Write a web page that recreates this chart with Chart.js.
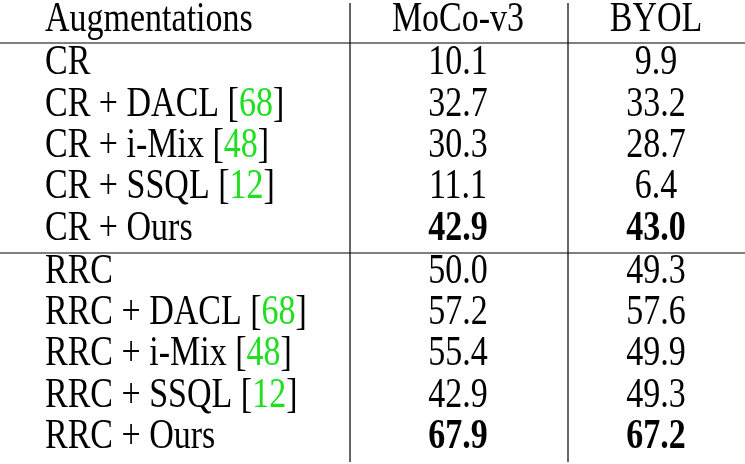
<!DOCTYPE html>
<html><head><meta charset="utf-8">
<script src="https://cdn.jsdelivr.net/npm/chart.js@4"></script>
<style>html,body{margin:0;padding:0;background:#fff}#wrap{width:745px;height:464px}</style>
</head><body><div id="wrap"><canvas id="c"></canvas></div>
<script>
const headers = ['Augmentations', 'MoCo-v3', 'BYOL'];
const methods = ['CR', 'CR + DACL', 'CR + i-Mix', 'CR + SSQL', 'CR + Ours',
  'RRC', 'RRC + DACL', 'RRC + i-Mix', 'RRC + SSQL', 'RRC + Ours'];
const refs = ['', '68', '48', '12', '', '', '68', '48', '12', ''];
const mocoV3 = [10.1, 32.7, 30.3, 11.1, 42.9, 50.0, 57.2, 55.4, 42.9, 67.9];
const byol = [9.9, 33.2, 28.7, 6.4, 43.0, 49.3, 57.6, 49.9, 49.3, 67.2];
const best = [false, false, false, false, true, false, false, false, false, true];

// layout in scale units (pixels of the 745x464 frame)
const colX = [45, 458, 656];
const rowY = [20, 63, 105, 146, 187, 229, 272, 313, 354, 396, 437];
const vLines = [350, 568];
const hLines = [43, 253];
const FONT = '"Liberation Serif", "Times New Roman", serif';
const STRETCH = 1.25;

function stretchedText(ctx, t, px, py) {
  ctx.save();
  ctx.translate(px, py);
  ctx.scale(1, STRETCH);
  ctx.fillText(t, 0, 0);
  ctx.restore();
}

const tablePlugin = {
  id: 'table',
  afterDraw(chart) {
    const { ctx, scales: { x, y } } = chart;
    ctx.save();
    ctx.strokeStyle = '#000';
    ctx.lineWidth = 1.2;
    vLines.forEach(v => {
      ctx.beginPath(); ctx.moveTo(x.getPixelForValue(v), y.getPixelForValue(3));
      ctx.lineTo(x.getPixelForValue(v), y.getPixelForValue(462)); ctx.stroke();
    });
    hLines.forEach(h => {
      ctx.beginPath(); ctx.moveTo(x.getPixelForValue(0), y.getPixelForValue(h));
      ctx.lineTo(x.getPixelForValue(745), y.getPixelForValue(h)); ctx.stroke();
    });
    ctx.textBaseline = 'middle';
    ctx.fillStyle = '#000';
    const norm = '34px ' + FONT, bold = 'bold 34px ' + FONT;
    ctx.font = norm;
    ctx.textAlign = 'left';
    stretchedText(ctx, headers[0], x.getPixelForValue(colX[0]), y.getPixelForValue(rowY[0]));
    ctx.textAlign = 'center';
    stretchedText(ctx, headers[1], x.getPixelForValue(colX[1]), y.getPixelForValue(rowY[0]));
    stretchedText(ctx, headers[2], x.getPixelForValue(colX[2]), y.getPixelForValue(rowY[0]));
    methods.forEach((m, i) => {
      const py = y.getPixelForValue(rowY[i + 1]);
      let px = x.getPixelForValue(colX[0]);
      ctx.font = norm;
      ctx.textAlign = 'left';
      const parts = refs[i] ? [[m + ' [', '#000'], [refs[i], '#1ee01e'], [']', '#000']] : [[m, '#000']];
      parts.forEach(([t, c]) => {
        ctx.fillStyle = c; stretchedText(ctx, t, px, py); px += ctx.measureText(t).width;
      });
      ctx.fillStyle = '#000';
      ctx.textAlign = 'center';
      ctx.font = best[i] ? bold : norm;
      stretchedText(ctx, mocoV3[i].toFixed(1), x.getPixelForValue(colX[1]), py);
      stretchedText(ctx, byol[i].toFixed(1), x.getPixelForValue(colX[2]), py);
    });
    ctx.restore();
  }
};

new Chart(document.getElementById('c'), {
  type: 'scatter',
  data: { datasets: [{ data: [], pointRadius: 0 }] },
  options: {
    responsive: true, maintainAspectRatio: false, animation: false,
    layout: { padding: 0 },
    plugins: { legend: { display: false }, tooltip: { enabled: false } },
    scales: {
      x: { type: 'linear', min: 0, max: 745, display: false },
      y: { type: 'linear', min: 0, max: 464, reverse: true, display: false }
    }
  },
  plugins: [tablePlugin]
});
</script></body></html>
